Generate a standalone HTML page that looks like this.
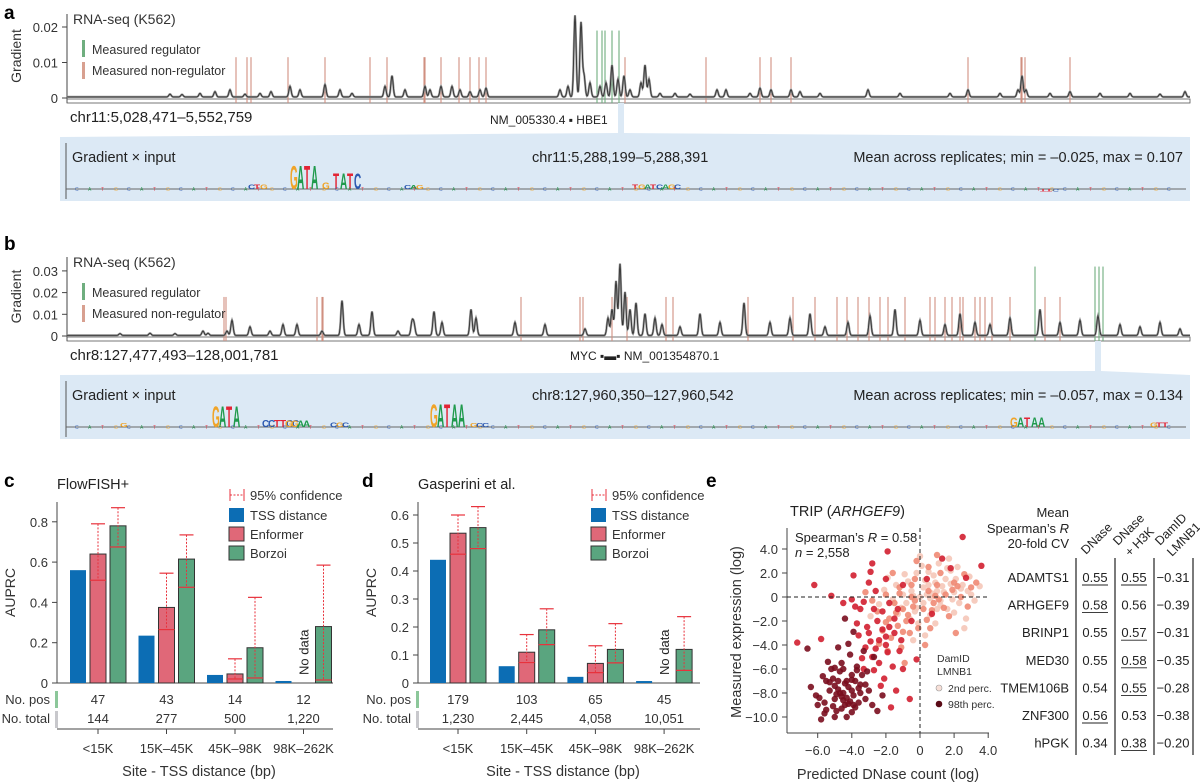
<!DOCTYPE html>
<html><head><meta charset="utf-8"><style>
body{margin:0;background:#fff}
svg{display:block;font-family:"Liberation Sans",sans-serif}
</style></head><body>
<svg id="fig" width="1200" height="784" viewBox="0 0 1200 784" xmlns="http://www.w3.org/2000/svg">
<text x="4" y="19" font-size="19" font-weight="bold">a</text>
<text x="4" y="250" font-size="19" font-weight="bold">b</text>
<text x="4" y="487" font-size="19" font-weight="bold">c</text>
<text x="362" y="487" font-size="19" font-weight="bold">d</text>
<text x="706" y="487" font-size="19" font-weight="bold">e</text>
<g id="ga"></g>
<g id="gb"></g>
<g id="gc"></g>
<g id="gd"></g>
<g id="ge"></g>
</svg>
<script>
// ---------- Panel a data ----------
const aPeakPos=[170,182,200,215,230,245,260,271,290,300,325,340,352,385,392,405,425,430,441,452,460,470,480,486,560,568,575,581,584,590,600,606,612,618,624,630,641,645,649,660,675,690,717,726,750,760,771,791,800,820,868,900,950,968,1000,1018,1022,1026,1050,1070,1100,1130,1160,1185];
const aPeakVal=[0.0008,0.0007,0.001,0.0015,0.002,0.0008,0.001,0.0015,0.003,0.002,0.0035,0.002,0.001,0.003,0.006,0.002,0.003,0.002,0.003,0.003,0.002,0.0015,0.002,0.0025,0.002,0.003,0.023,0.021,0.006,0.004,0.003,0.004,0.009,0.005,0.006,0.002,0.004,0.009,0.005,0.001,0.001,0.0008,0.002,0.002,0.001,0.0025,0.002,0.002,0.0015,0.001,0.002,0.001,0.001,0.002,0.001,0.002,0.006,0.002,0.001,0.0015,0.001,0.001,0.0008,0.0015];
const aRegulators=[597,602,605,612,619];
const aNonRegulators=[236,247,251,288,325,370,387,424,425,441,459,470,479,486,625,706,760,771,791,968,1021,1022,1025,1070];
const aTicks=[0,0.01,0.02];
// ---------- Panel b data ----------
const bPeakPos=[120,150,175,203,208,227,232,250,270,283,297,322,342,359,372,398,412,414,434,442,471,476,515,545,585,608,612,616,620,625,630,636,645,655,662,680,700,720,744,770,790,810,825,848,870,895,920,945,960,975,990,1010,1040,1060,1080,1098,1120,1140,1160,1180];
const bPeakVal=[0.0008,0.001,0.0008,0.002,0.001,0.002,0.007,0.004,0.002,0.005,0.005,0.002,0.016,0.005,0.011,0.002,0.006,0.005,0.011,0.006,0.012,0.008,0.006,0.005,0.003,0.008,0.012,0.025,0.033,0.02,0.012,0.015,0.01,0.008,0.005,0.004,0.01,0.006,0.015,0.006,0.008,0.01,0.004,0.006,0.009,0.012,0.007,0.005,0.01,0.006,0.005,0.008,0.012,0.006,0.007,0.009,0.005,0.004,0.006,0.003];
const bRegulators=[1035,1095,1099,1103];
const bNonRegulators=[224,226,317,322,323,521,580,583,612,627,666,673,748,793,815,837,847,858,869,880,888,905,930,935,945,952,960,963,975,980,985,992,1010,1045,1060];
const bTicks=[0,0.01,0.02,0.03];
// ---------- Panel c data ----------
const cCats=["<15K","15K–45K","45K–98K","98K–262K"];
const cTss=[0.56,0.235,0.04,0.01];
const cEnf=[0.64,0.375,0.045,null];
const cBor=[0.78,0.615,0.175,0.28];
const cEnfLo=[0.51,0.265,0.02,null], cEnfHi=[0.79,0.545,0.12,null];
const cBorLo=[0.675,0.475,0.025,0.015], cBorHi=[0.87,0.735,0.425,0.585];
const cPos=["47","43","14","12"], cTotal=["144","277","500","1,220"];
const cTicks=[0,0.2,0.4,0.6,0.8];
// ---------- Panel d data ----------
const dCats=["<15K","15K–45K","45K–98K","98K–262K"];
const dTss=[0.44,0.06,0.022,0.007];
const dEnf=[0.535,0.11,0.07,null];
const dBor=[0.555,0.19,0.12,0.12];
const dEnfLo=[0.46,0.073,0.037,null], dEnfHi=[0.6,0.173,0.133,null];
const dBorLo=[0.48,0.137,0.072,0.045], dBorHi=[0.63,0.265,0.212,0.237];
const dPos=["179","103","65","45"], dTotal=["1,230","2,445","4,058","10,051"];
const dTicks=[0,0.1,0.2,0.3,0.4,0.5,0.6];
// ---------- Panel e data ----------
const eDarkX=[-4.5,-4.2,-5,-4.8,-3.9,-4.4,-5.3,-5.6,-4,-3.5,-4.7,-5.2,-3.8,-4.9,-5.8,-4.3,-3.2,-3,-2.8,-5.5,-6.1,-6.4,-4.6,-3.7,-4.1,-4.8,-3.4,-5.1,-4.5,-4,-3.6,-5.4,-4.2,-3.3,-2.5,-4,-5,-2.2,-6.6,-3.9,-4.4,-4.7,-4.3,-5,-3.8,-4.6,-5.7,-3.1,-2.7,-6,-4.1,-4.9,-5.5,-3.6,-4.4,-5.1,-3.9,-4.6,-4.2,-5.3,-3.5,-4.8,-4.0,-5.9,-3.2,-4.5,-5.0,-4.3,-3.7,-5.6];
const eDarkY=[-8,-7.5,-8.5,-7,-8.2,-9,-7.8,-8.8,-6.5,-7.3,-6.2,-6,-9.2,-9.5,-10.2,-10,-8.5,-7.8,-9,-7,-8.2,-7.5,-5.5,-5.8,-4.8,-4.2,-6.5,-9.1,-8.6,-7.8,-8.8,-5.4,-3.9,-4.5,-9.5,-9.6,-10,-8.2,-4.3,-2.9,-1.8,-8,-7,-7.4,-7,-9.3,-6.6,-6.2,-5,-9,-8.7,-8.1,-9.4,-7.6,-7.2,-6.8,-9.0,-8.3,-8.9,-7.1,-8.0,-7.7,-6.9,-8.4,-7.3,-6.0,-5.9,-8.4,-6.1,-9.7];
const eRedX=[-3,-2.5,-2,-3.5,-2.8,-1.5,-3.2,-2.2,-4,-3.7,-2.6,-1.8,-2.4,-1.2,-3,-2,-4.5,-5.2,-6.2,-7.2,-5.8,-3.3,-1.6,-2.1,-1,-0.6,-1.7,-3.9,-2.9,-1,0.4,1.3,0.7,-0.5,-1.3,1.8,2.7,-1.9,-2.8,-0.2,-2.3,-1.4,-3.6,-2.7,-1.1,3.6,2.5,-3.8,-2.9,-2.2,-3.4,-1.9,-2.6,-3.1,-2.0,-1.5,-2.7,-3.3,-1.8,-2.4];
const eRedY=[-3,-2,-4,-1,-5,-3,-4.2,-1.2,-0.2,-2.2,0.5,-2.5,-3.6,-4.5,1.2,1.5,-0.5,0.1,1,-3.8,-3.5,-6,-5.8,-6.8,-6,-8.5,-9.2,1.8,2.1,1,1.5,3.2,-1.4,-2,-1,2.4,1.6,3.8,2.8,-5.2,-7.4,-7.8,-3.2,-1,-3.6,2.6,5,-0.8,-3.7,-2.7,-5.1,-4.6,-4.3,-2.5,-3.3,-1.8,-6.1,-0.4,-0.5,-5.5];
const eSalmonX=[-1,-0.5,0.5,1,-1.5,-2,-0.8,0.2,1.5,2,-1.2,0.8,-0.3,1.2,2.4,-2.5,-1.8,-0.6,0.6,1.7,3,2.8,-1.1,-0.9,0.3,2.1,-2.2,1,0.5,-0.2,-1.6,-2.8,0.9,1.9,-0.4,-1.3,2.6,3.3,-3.2,1.4,-1.7,-1.0,-0.7,-2.0,-1.4,-0.1,0.4,1.1,-2.4,-1.9,-0.3,-1.2,-0.5,0.7,2.2];
const eSalmonY=[-1,0,0.5,1,-0.5,0.2,-2,-1,0.2,1.2,0.8,-0.5,1.5,2,0,-1.2,-1.8,-3,-2.6,-1.6,0.8,-0.8,-4.2,-5.5,-4,-3,-2.8,3.5,2.5,3,2,-0.3,0.1,0.6,-0.8,-2.4,1.9,1.2,0.4,-0.9,-3.4,-2.9,-1.5,-2.1,-1.3,-2.6,-1.9,-0.2,-3.9,-4.5,-0.3,0.3,1.0,-1.1,0.9];
const ePinkX=[0,0.5,1,1.5,-0.5,0.2,1.2,2,2.5,0.8,-0.2,1.8,-1,0.6,-0.3,1.6,2.3,3,2.9,0.1,1.1,-0.7,-1.4,0.4,1.3,2.1,-0.1,1.7,0.9,2.7,3.2,-0.8,-1.6,0.3,1.9,0.7,-1.9,-2.4,1,2.2,0,3.5,-0.4,0.3,2.6,-2.9,-0.6,-1.1,0.2,0.9,1.4,2.4,-0.2,0.6,1.8,-1.3,-0.9,0.5,1.2,2.0,-0.4,-2.1,2.8,1.6];
const ePinkY=[0,1,0.5,1.5,0.5,-0.5,-0.3,0.4,1,1.8,2,2.2,0.2,-1.5,-1.2,-1,-0.5,0.2,1.7,2.6,2.8,1.3,1,0.2,0.9,1.5,-2.2,3.2,-2.2,-1.8,-0.3,-0.5,-0.2,1.4,-0.2,0.3,1.6,-0.6,-1,2.5,3.4,0.9,-3.6,-3.2,-2.6,-1.6,-1.8,-0.9,0.8,1.2,0.4,0.7,-0.9,-0.1,1.1,-1.4,1.9,2.1,-0.7,-1.3,0.1,0.6,0.5,2.4];
const eXTicks=[-6,-4,-2,0,2,4];
const eYTicks=[4,2,0,-2,-4,-6,-8,-10];
const tGenes=["ADAMTS1","ARHGEF9","BRINP1","MED30","TMEM106B","ZNF300","hPGK"];
const tDnase=["0.55","0.58","0.55","0.55","0.54","0.56","0.34"];
const tDnaseH3k=["0.55","0.56","0.57","0.58","0.55","0.53","0.38"];
const tDamid=["−0.31","−0.39","−0.31","−0.35","−0.28","−0.38","−0.20"];
const tUlDnase=[1,1,0,0,0,1,0];
const tUlH3k=[1,0,1,1,1,0,1];

const NS="http://www.w3.org/2000/svg";
function mk(tag,attrs,parent,txt){const e=document.createElementNS(NS,tag);for(const k in attrs)e.setAttribute(k,attrs[k]);if(txt!==undefined)e.textContent=txt;parent.appendChild(e);return e;}

function track(g,o){
  const yv=v=>o.y0-v*o.k;
  mk('line',{x1:o.x0,y1:o.top,x2:o.x0,y2:o.y0+5,stroke:'#444','stroke-width':1},g);
  o.ticks.forEach(t=>{
    const tl=mk('line',{x1:o.x0-5,y1:yv(t),x2:o.x0,y2:yv(t),stroke:'#444'},g);
    
    
    const tx=mk('text',{x:o.x0-9,y:yv(t)+5,'font-size':13,'text-anchor':'end',fill:'#333'},g,t===0?'0':String(t));
    
    
  });
  mk('rect',{x:o.x0,y:o.y0+1,width:o.x1-o.x0,height:4,fill:'none',stroke:'#555','stroke-width':0.8},g);
  o.nonreg.forEach(x=>{const l=mk('line',{x1:x,y1:yv(o.nonH),x2:x,y2:o.y0+5,stroke:'#d09080','stroke-width':1.1},g);
    });
  o.reg.forEach(x=>{const l=mk('line',{x1:x,y1:yv(o.regH),x2:x,y2:o.y0+5,stroke:'#6fae7f','stroke-width':1.1},g);
    });
  let d='';
  for(let x=o.x0;x<=o.x1;x+=0.5){
    let v=0.0003;
    for(let i=0;i<o.pos.length;i++){const dx=(x-o.pos[i])/1.6;v+=o.val[i]*Math.exp(-dx*dx);}
    d+=(x===o.x0?'M':'L')+x.toFixed(1)+','+yv(v).toFixed(1);
  }
  const p1=mk('path',{d:d,fill:'none',stroke:'#999','stroke-width':2.2},g);
  
  const p=mk('path',{d:d,fill:'none',stroke:'#333','stroke-width':0.9},g);
  
  const yl=mk('text',{transform:`translate(${o.x0-46},${(o.top+o.y0)/2}) rotate(-90)`,'font-size':14,'text-anchor':'middle',fill:'#333'},g,'Gradient');
  
  const tt=mk('text',{x:o.x0+6,y:o.top+10,'font-size':14,fill:'#333'},g,'RNA-seq (K562)');
  
  mk('rect',{x:o.x0+15,y:o.top+26,width:3,height:17,fill:'#6fae7f'},g);
  mk('text',{x:o.x0+25,y:o.top+40,'font-size':12.5,fill:'#333'},g,'Measured regulator');
  mk('rect',{x:o.x0+15,y:o.top+48,width:3,height:17,fill:'#d8a090'},g);
  mk('text',{x:o.x0+25,y:o.top+61,'font-size':12.5,fill:'#333'},g,'Measured non-regulator');
  mk('text',{x:o.x0+3,y:o.y0+24,'font-size':15,fill:'#222'},g,o.region);
  mk('rect',{x:o.cx-3,y:o.y0+5,width:6,height:o.by-o.y0-5,fill:'#dce9f5'},g);
  mk('polygon',{points:`${o.cx-3},${o.by-4} ${o.cx+3},${o.by-4} 1190,${o.by} 60,${o.by}`,fill:'#dce9f5'},g);
  const box=mk('rect',{x:60,y:o.by,width:1130,height:64,fill:'#dce9f5'},g);
  
  mk('line',{x1:66,y1:o.by+6,x2:66,y2:o.by+62,stroke:'#555'},g);
  mk('line',{x1:66,y1:o.by+52,x2:1186,y2:o.by+52,stroke:'#666','stroke-width':1},g);
  mk('text',{x:72,y:o.by+25,'font-size':14.5,fill:'#222'},g,'Gradient × input');
  mk('text',{x:o.cpos,y:o.by+25,'font-size':14.5,fill:'#222'},g,o.coord);
  mk('text',{x:1183,y:o.by+25,'font-size':14.5,fill:'#222','text-anchor':'end'},g,o.mean);
  const col={A:'#1f9a4c',C:'#2b58b0',G:'#f0a428',T:'#e32434'};
  o.logo.forEach(s=>{
    let x=s[0];const h=s[2];
    for(const ch of s[1]){
      const t=mk('text',{transform:`translate(${x},${o.by+52}) scale(1,${(h/10).toFixed(2)})`,'font-size':10,'font-weight':'bold',fill:col[ch]||'#888'},g,ch);
      
      
      x+=h>12?7:6;
    }
  });
  for(let x=75;x<1180;x+=13){const ch='ACGT'[(x*7)%4];mk('text',{x:x,y:o.by+54,'font-size':5,fill:col[ch],opacity:0.8},g,ch);}
}
track(document.getElementById('ga'),{x0:67,x1:1190,y0:98,top:14,k:3550,ticks:aTicks,pos:aPeakPos,val:aPeakVal,
  reg:aRegulators,nonreg:aNonRegulators,regH:0.019,nonH:0.0115,region:'chr11:5,028,471–5,552,759',cx:621,by:137,cpos:532,
  coord:'chr11:5,288,199–5,288,391',mean:'Mean across replicates; min = –0.025, max = 0.107',
  logo:[[248,'CTG',6],[290,'GATA',33],[322,'G',9],[333,'TATC',22],[404,'CAG',5],[632,'TGATCAGC',6],[1040,'TTC',-4]]});
mk('text',{x:490,y:124,'font-size':12,fill:'#222'},document.getElementById('ga'),'NM_005330.4 ▪ HBE1');
track(document.getElementById('gb'),{x0:67,x1:1190,y0:336,top:257,k:2170,ticks:bTicks,pos:bPeakPos,val:bPeakVal,
  reg:bRegulators,nonreg:bNonRegulators,regH:0.032,nonH:0.018,region:'chr8:127,477,493–128,001,781',cx:1098,by:375,cpos:532,
  coord:'chr8:127,960,350–127,960,542',mean:'Mean across replicates; min = –0.057, max = 0.134',
  logo:[[120,'G',5],[212,'GATA',30],[262,'CCTTCC',10],[285,'GGAA',9],[330,'CGC',6],[430,'GATAA',32],[470,'GCC',5],[1010,'GATAA',14],[1150,'GTT',6]]});
mk('text',{x:570,y:360,'font-size':12,fill:'#222'},document.getElementById('gb'),'MYC ▪▬▪ NM_001354870.1');

function bars(g,o){
  const y=v=>o.y0-v*o.k;
  const cols=['#0c6db4','#e06878','#5aa57f'];
  mk('line',{x1:o.x0,y1:o.top,x2:o.x0,y2:o.y0,stroke:'#444'},g);
  mk('line',{x1:o.x0,y1:o.y0,x2:o.x1,y2:o.y0,stroke:'#444'},g);
  o.ticks.forEach(t=>{
    const tl=mk('line',{x1:o.x0-5,y1:y(t),x2:o.x0,y2:y(t),stroke:'#444'},g);
    
    const tx=mk('text',{x:o.x0-9,y:y(t)+5,'font-size':13,'text-anchor':'end',fill:'#333'},g,t===0?'0':String(t));
    
  });
  const series=[o.tss,o.enf,o.bor];
  o.cats.forEach((c,i)=>{
    const cx=o.cx0+i*o.step;
    series.forEach((s,j)=>{
      if(s[i]==null)return;
      const bx=cx-28+j*20;
      const r=mk('rect',{x:bx,y:y(s[i]),width:16,height:o.y0-y(s[i]),fill:cols[j],stroke:j?'#333':'none','stroke-width':1},g);
      
      
    });
    [[o.enfLo,o.enfHi,0],[o.borLo,o.borHi,20]].forEach(e=>{
      if(e[0][i]==null)return;
      const ex=cx+e[2];
      const l=mk('line',{x1:ex,y1:y(e[1][i]),x2:ex,y2:y(e[0][i]),stroke:'#e8323c','stroke-width':1,'stroke-dasharray':'2,1.5'},g);
      
      mk('line',{x1:ex-7,y1:y(e[1][i]),x2:ex+7,y2:y(e[1][i]),stroke:'#e8323c','stroke-width':1.2},g);
      mk('line',{x1:ex-8,y1:y(e[0][i]),x2:ex+8,y2:y(e[0][i]),stroke:'#e8323c','stroke-width':1.2},g);
    });
    const p=mk('text',{x:cx,y:o.y0+21,'font-size':13,'text-anchor':'middle',fill:'#333'},g,o.pos[i]);
    
    const t=mk('text',{x:cx,y:o.y0+40,'font-size':13,'text-anchor':'middle',fill:'#333'},g,o.total[i]);
    
    mk('line',{x1:cx,y1:o.y0+46,x2:cx,y2:o.y0+51,stroke:'#444'},g);
    const cl=mk('text',{x:cx,y:o.y0+70,'font-size':13,'text-anchor':'middle',fill:'#333'},g,c);
    
  });
  const nd=o.cx0+3*o.step;
  mk('text',{transform:`translate(${nd+5},${o.y0-8}) rotate(-90)`,'font-size':13,fill:'#222'},g,'No data');
  mk('line',{x1:o.x0,y1:o.y0+46,x2:o.x1,y2:o.y0+46,stroke:'#444'},g);
  mk('text',{x:o.x0-7,y:o.y0+21,'font-size':13,'text-anchor':'end',fill:'#333'},g,'No. pos');
  mk('text',{x:o.x0-7,y:o.y0+40,'font-size':13,'text-anchor':'end',fill:'#333'},g,'No. total');
  mk('rect',{x:o.x0-2,y:o.y0+8,width:3,height:17,fill:'#8cc79a'},g);
  mk('rect',{x:o.x0-2,y:o.y0+28,width:3,height:17,fill:'#c8c8cc'},g);
  mk('text',{x:(o.x0+o.x1)/2+4,y:o.y0+93,'font-size':14.5,'text-anchor':'middle',fill:'#333'},g,'Site - TSS distance (bp)');
  mk('text',{transform:`translate(${o.x0-42},${(o.top+o.y0)/2}) rotate(-90)`,'font-size':14,'text-anchor':'middle',fill:'#333'},g,'AUPRC');
  mk('text',{x:o.x0,y:o.top-13,'font-size':14.5,fill:'#222'},g,o.title);
  const lx=o.lx;
  mk('line',{x1:lx+1,y1:495,x2:lx+15,y2:495,stroke:'#e8323c','stroke-dasharray':'2,1.5'},g);
  mk('line',{x1:lx+1,y1:489,x2:lx+1,y2:501,stroke:'#e8323c'},g);
  mk('line',{x1:lx+15,y1:489,x2:lx+15,y2:501,stroke:'#e8323c'},g);
  mk('text',{x:lx+21,y:500,'font-size':13,fill:'#333'},g,'95% confidence');
  ['TSS distance','Enformer','Borzoi'].forEach((n,j)=>{
    mk('rect',{x:lx,y:508+j*19,width:15,height:14,fill:cols[j],stroke:j?'#333':'none'},g);
    const t=mk('text',{x:lx+21,y:520+j*19,'font-size':13,fill:'#333'},g,n);
    
  });
}
bars(document.getElementById('gc'),{x0:57,x1:333,y0:683,top:502,k:201.5,ticks:cTicks,cats:cCats,tss:cTss,enf:cEnf,bor:cBor,
  enfLo:cEnfLo,enfHi:cEnfHi,borLo:cBorLo,borHi:cBorHi,pos:cPos,total:cTotal,cx0:98,step:68.5,lx:229,title:'FlowFISH+'});
bars(document.getElementById('gd'),{x0:418,x1:700,y0:683,top:502,k:280,ticks:dTicks,cats:dCats,tss:dTss,enf:dEnf,bor:dBor,
  enfLo:dEnfLo,enfHi:dEnfHi,borLo:dBorLo,borHi:dBorHi,pos:dPos,total:dTotal,cx0:458,step:68.7,lx:591,title:'Gasperini et al.'});

(function(){
  const g=document.getElementById('ge');
  const X=v=>920+v*17.05, Y=v=>597-v*12;
  mk('line',{x1:787,y1:528,x2:787,y2:733,stroke:'#444'},g);
  mk('line',{x1:787,y1:733,x2:989,y2:733,stroke:'#444'},g);
  eXTicks.forEach(t=>{mk('line',{x1:X(t),y1:733,x2:X(t),y2:738,stroke:'#444'},g);
    const tx=mk('text',{x:X(t),y:755,'font-size':13,'text-anchor':'middle',fill:'#333'},g,t===0?'0':t.toFixed(1).replace('-','−'));
    });
  eYTicks.forEach(t=>{mk('line',{x1:782,y1:Y(t),x2:787,y2:Y(t),stroke:'#444'},g);
    const tx=mk('text',{x:778,y:Y(t)+5,'font-size':13,'text-anchor':'end',fill:'#333'},g,t===0?'0':t.toFixed(1).replace('-','−'));
    });
  [[ePinkX,ePinkY,'#f5c7b8'],[eSalmonX,eSalmonY,'#ef8a74'],[eRedX,eRedY,'#d21f30'],[eDarkX,eDarkY,'#7a0d1e']].forEach(s=>{
    s[0].forEach((x,i)=>{const c=mk('circle',{cx:X(x),cy:Y(s[1][i]),r:3.2,fill:s[2],opacity:0.9},g);
      });
  });
  mk('line',{x1:787,y1:Y(0),x2:989,y2:Y(0),stroke:'#222','stroke-dasharray':'4,3'},g);
  mk('line',{x1:X(0),y1:528,x2:X(0),y2:733,stroke:'#222','stroke-dasharray':'4,3'},g);
  const ti=mk('text',{x:790,y:516,'font-size':14.5,fill:'#222'},g);
  ti.innerHTML='TRIP (<tspan font-style="italic">ARHGEF9</tspan>)';
  const sp=mk('text',{x:795,y:542,'font-size':13,fill:'#222'},g);
  sp.innerHTML='Spearman’s <tspan font-style="italic">R</tspan> = 0.58';
  const nn=mk('text',{x:795,y:557,'font-size':13,fill:'#222'},g);
  nn.innerHTML='<tspan font-style="italic">n</tspan> = 2,558';
  mk('text',{transform:'translate(741,632) rotate(-90)','font-size':14.5,'text-anchor':'middle',fill:'#333'},g,'Measured expression (log)');
  mk('text',{x:888,y:779,'font-size':14.5,'text-anchor':'middle',fill:'#333'},g,'Predicted DNase count (log)');
  mk('text',{x:937,y:662,'font-size':10.5,fill:'#333'},g,'DamID');
  mk('text',{x:937,y:675,'font-size':10.5,fill:'#333'},g,'LMNB1');
  mk('circle',{cx:939,cy:688,r:3,fill:'#f8e0d8',stroke:'#999','stroke-width':0.6},g);
  mk('text',{x:948,y:692,'font-size':10.5,fill:'#333'},g,'2nd perc.');
  mk('circle',{cx:939,cy:704,r:3.3,fill:'#5a0a16'},g);
  mk('text',{x:948,y:708,'font-size':10.5,fill:'#333'},g,'98th perc.');
  mk('text',{x:1069,y:517,'font-size':13,'text-anchor':'end',fill:'#222'},g,'Mean');
  const s2=mk('text',{x:1069,y:533,'font-size':13,'text-anchor':'end',fill:'#222'},g);s2.innerHTML='Spearman’s <tspan font-style="italic">R</tspan>';
  mk('text',{x:1069,y:548,'font-size':13,'text-anchor':'end',fill:'#222'},g,'20-fold CV');
  mk('text',{transform:'translate(1086,555) rotate(-45)','font-size':12.5,fill:'#222'},g,'DNase');
  mk('text',{transform:'translate(1118,546) rotate(-45)','font-size':12.5,fill:'#222'},g,'DNase');
  mk('text',{transform:'translate(1130,557) rotate(-45)','font-size':12.5,fill:'#222'},g,'+ H3K');
  mk('text',{transform:'translate(1160,546) rotate(-45)','font-size':12.5,fill:'#222'},g,'DamID');
  mk('text',{transform:'translate(1172,557) rotate(-45)','font-size':12.5,fill:'#222'},g,'LMNB1');
  [1076,1115,1154,1193].forEach(x=>mk('line',{x1:x,y1:558,x2:x,y2:755,stroke:'#333','stroke-width':1.3},g));
  tGenes.forEach((n,i)=>{
    const y=582+i*27.6;
    const gn=mk('text',{x:1069,y:y,'font-size':13,'text-anchor':'end',fill:'#222'},g,n);
    
    [[tDnase,1095,tUlDnase],[tDnaseH3k,1134,tUlH3k],[tDamid,1173,null]].forEach(c=>{
      const t=mk('text',{x:c[1],y:y,'font-size':13,'text-anchor':'middle',fill:'#222'},g,c[0][i]);
      
      if(c[2]&&c[2][i])mk('line',{x1:c[1]-13,y1:y+3,x2:c[1]+13,y2:y+3,stroke:'#222','stroke-width':0.9},g);
    });
  });
})();
</script>
</body></html>
